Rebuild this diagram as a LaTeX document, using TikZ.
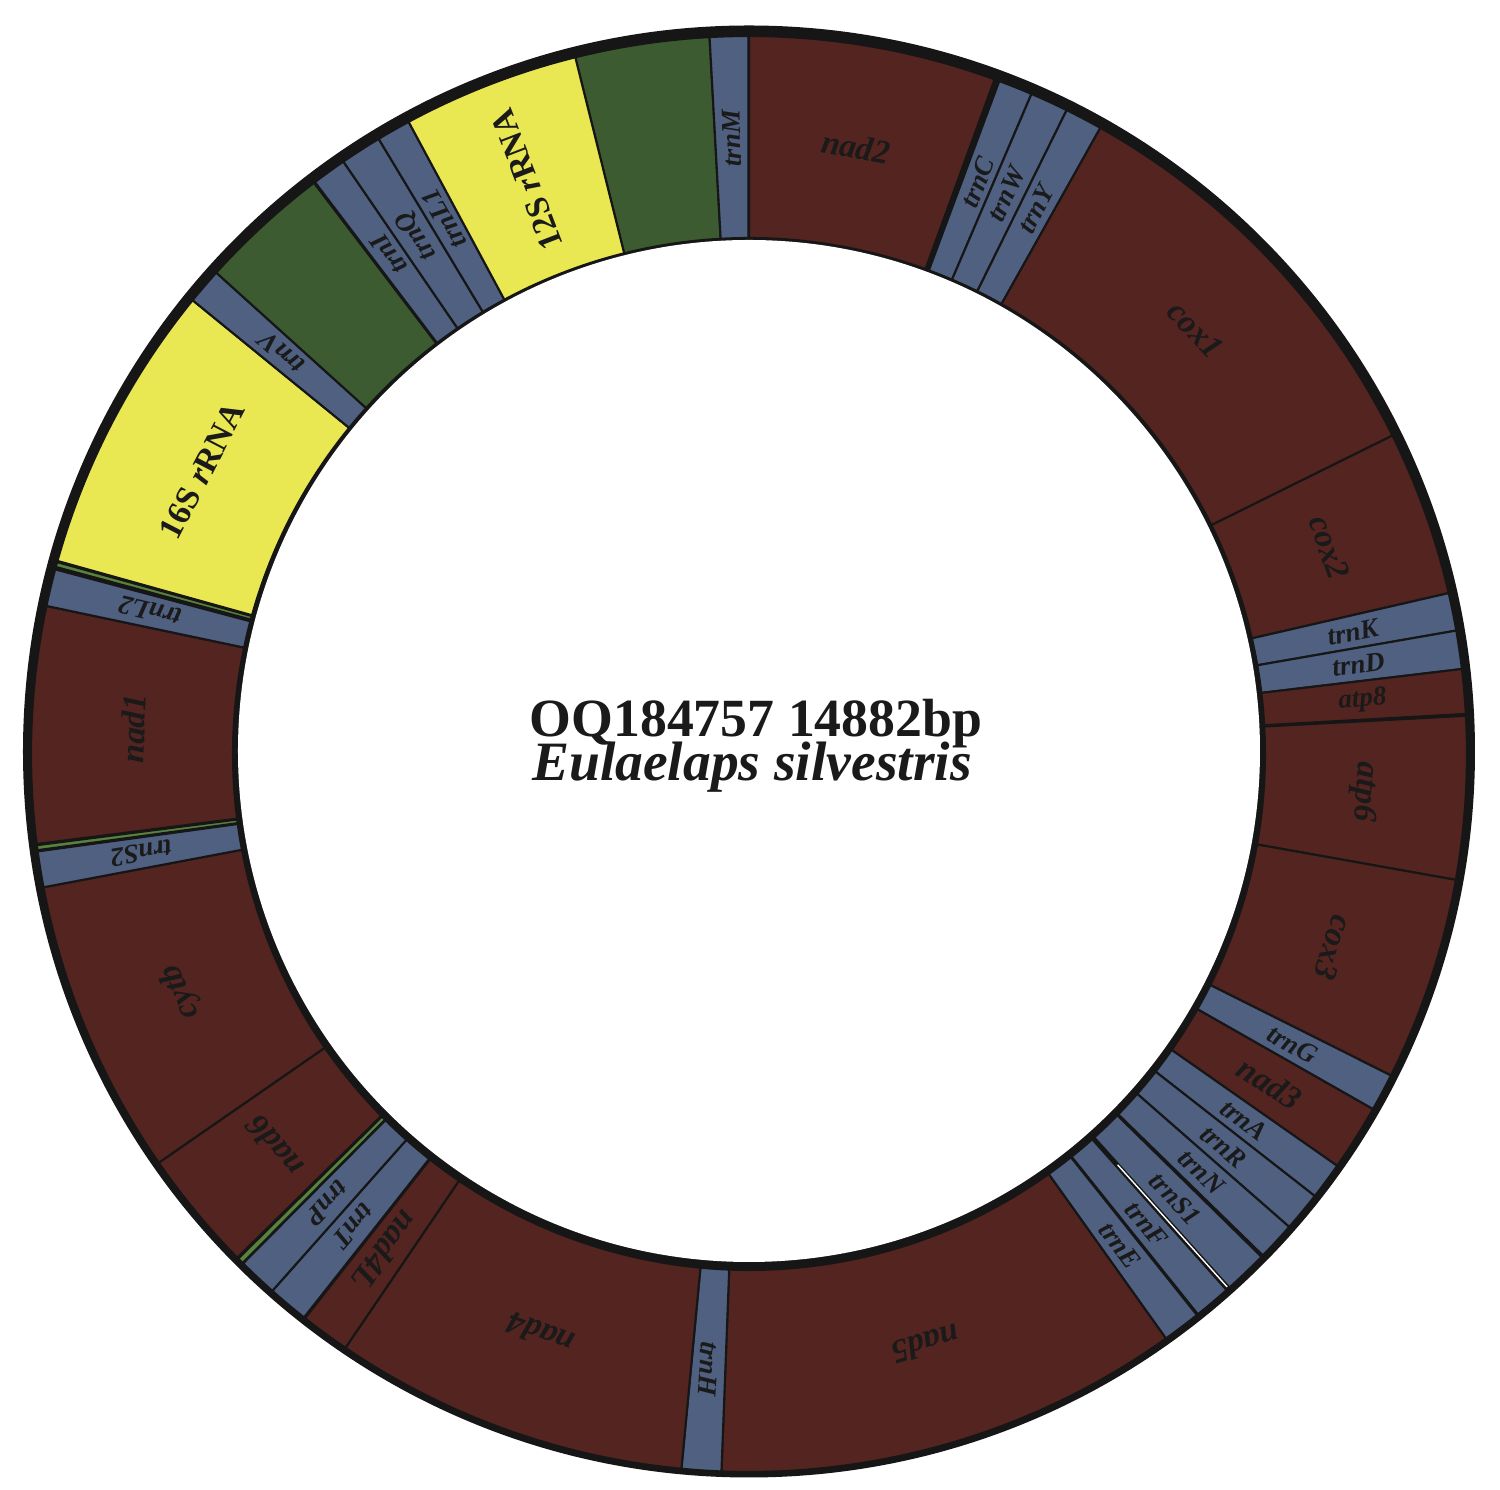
\documentclass[tikz,border=0pt]{standalone}
\usepackage{fontspec}
\setmainfont{Liberation Serif}
\definecolor{genered}{RGB}{83,36,32}
\definecolor{trnablue}{RGB}{79,96,128}
\definecolor{ctrlgreen}{RGB}{60,91,48}
\definecolor{rrnayellow}{RGB}{234,232,82}
\definecolor{thingreen}{RGB}{88,130,62}
\definecolor{labelink}{RGB}{26,26,26}
\definecolor{ringblack}{RGB}{22,22,22}
\def\Rin{5.16}
\def\Rout{7.18}
\def\Rmid{6.16}
\newcommand{\gseg}[3]{%
  \filldraw[segline,fill=#3] ({90-(#1)}:\Rout) arc[start angle={90-(#1)}, end angle={90-(#2)}, radius=\Rout]
    -- ({90-(#2)}:\Rin) arc[start angle={90-(#2)}, end angle={90-(#1)}, radius=\Rin] -- cycle;}
\newcommand{\tlab}[4]{\node[#4, rotate={-(#2)}] (#1) at ({90-(#2)}:\Rmid) {#3};}
\newcommand{\rlab}[4]{\node[#4, rotate={90-(#2)}] (#1) at ({90-(#2)}:\Rmid) {#3};}
\tikzset{
  segline/.style={draw=ringblack, line width=0.6pt},
  genelab/.style={text=labelink, font=\fontsize{9.5}{10}\selectfont\bfseries\itshape, inner sep=0pt},
  trnlab/.style={text=labelink, font=\fontsize{7.7}{8}\selectfont\bfseries\itshape, inner sep=0pt},
  rrnalab/.style={text=labelink, font=\fontsize{9.6}{10}\selectfont\bfseries, inner sep=0pt},
  titlelab/.style={text=labelink, font=\fontsize{15.3}{18}\selectfont\bfseries, inner sep=0pt, anchor=base},
}
\begin{document}
\begin{tikzpicture}
\useasboundingbox (-7.49,-7.36) rectangle (7.51,7.54);
\fill[white] (-7.49,-7.36) rectangle (7.51,7.54);
% outer black ring and white centre
\fill[ringblack] (0,0.025) circle[radius=7.26];
\fill[white] (0,0.03) circle[radius=5.11];
% segments (angles clockwise from north)
\gseg{-14.0}{-3.15}{ctrlgreen}
\gseg{-3.15}{-0.05}{trnablue}
\gseg{0}{20.0}{genered}
\gseg{20.4}{23.17}{trnablue}
\gseg{23.17}{26.26}{trnablue}
\gseg{26.26}{29.3}{trnablue}
\gseg{29.3}{63.67}{genered}
\gseg{63.67}{77.05}{genered}
\gseg{77.05}{80.1}{trnablue}
\gseg{80.1}{83.2}{trnablue}
\gseg{83.2}{86.8}{genered}
\gseg{86.95}{100.1}{genered}
\gseg{100.1}{116.6}{genered}
\gseg{116.6}{119.65}{trnablue}
\gseg{119.65}{125.0}{genered}
\gseg{125.0}{128.0}{trnablue}
\gseg{128.0}{131.2}{trnablue}
\gseg{131.2}{134.3}{trnablue}
\gseg{134.45}{138.0}{trnablue}
\gseg{138.3}{141.3}{trnablue}
\gseg{141.4}{144.5}{trnablue}
\gseg{144.5}{182.2}{genered}
\gseg{182.2}{185.4}{trnablue}
\gseg{185.4}{214.2}{genered}
\gseg{214.2}{218.2}{genered}
\gseg{218.3}{221.6}{trnablue}
\gseg{221.6}{224.8}{trnablue}
\gseg{224.85}{225.35}{thingreen}
\gseg{225.45}{235.3}{genered}
\gseg{235.3}{259.3}{genered}
\gseg{259.3}{262.2}{trnablue}
\gseg{262.3}{262.7}{thingreen}
\gseg{262.8}{281.9}{genered}
\gseg{281.9}{284.9}{trnablue}
\gseg{285.1}{285.5}{thingreen}
\gseg{285.6}{309.2}{rrnayellow}
\gseg{309.2}{312.1}{trnablue}
\gseg{312.1}{322.7}{ctrlgreen}
\gseg{322.8}{325.6}{trnablue}
\gseg{325.6}{328.95}{trnablue}
\gseg{328.95}{331.7}{trnablue}
\gseg{331.7}{346.0}{rrnayellow}
% thin light line between trnS1 and trnF
\draw[white, line width=0.4pt] ({90-138.1}:5.52) -- ({90-138.1}:7.16);
% labels
\rlab{LtrnM}{-1.6}{trnM}{trnlab}
\tlab{Lnad2}{10}{nad2}{genelab}
\rlab{LtrnC}{21.8}{trnC}{trnlab}
\rlab{LtrnW}{24.7}{trnW}{trnlab}
\rlab{LtrnY}{27.8}{trnY}{trnlab}
\tlab{Lcox1}{46.5}{cox1}{genelab}
\tlab{Lcox2}{70.4}{cox2}{genelab}
\rlab{LtrnK}{78.6}{trnK}{trnlab}
\rlab{LtrnD}{81.65}{trnD}{trnlab}
\rlab{Latp8}{85.0}{atp8}{trnlab}
\tlab{Latp6}{93.5}{atp6}{genelab}
\tlab{Lcox3}{108.35}{cox3}{genelab}
\rlab{LtrnG}{118.1}{trnG}{trnlab}
\rlab{Lnad3}{122.3}{nad3}{genelab}
\rlab{LtrnA}{126.5}{trnA}{trnlab}
\rlab{LtrnR}{129.6}{trnR}{trnlab}
\rlab{LtrnN}{132.75}{trnN}{trnlab}
\rlab{LtrnSa}{136.2}{trnS1}{trnlab}
\rlab{LtrnF}{139.8}{trnF}{trnlab}
\rlab{LtrnE}{142.95}{trnE}{trnlab}
\tlab{Lnad5}{163.35}{nad5}{genelab}
\rlab{LtrnH}{183.8}{trnH}{trnlab}
\tlab{Lnad4}{199.8}{nad4}{genelab}
\rlab{Lnad4L}{216.2}{nad4L}{genelab}
\rlab{LtrnT}{219.95}{trnT}{trnlab}
\rlab{LtrnP}{223.2}{trnP}{trnlab}
\tlab{Lnad6}{230.4}{nad6}{genelab}
\tlab{Lcytb}{247.3}{cytb}{genelab}
\rlab{LtrnSb}{260.75}{trnS2}{trnlab}
\tlab{Lnad1}{272.35}{nad1}{genelab}
\rlab{LtrnLb}{283.4}{trnL2}{trnlab}
\tlab{L16S}{297.4}{16S \textit{r}RNA}{rrnalab}
\rlab{LtrnV}{310.65}{trnV}{trnlab}
\rlab{LtrnI}{324.2}{trnI}{trnlab}
\rlab{LtrnQ}{327.3}{trnQ}{trnlab}
\rlab{LtrnLa}{330.3}{trnL1}{trnlab}
\rlab{L12S}{338.85}{12S \textit{r}RNA}{rrnalab}
% centre title
\node[titlelab] (title1) at (0.07,0.17) {OQ184757 14882bp};
\node[titlelab, font=\fontsize{15.8}{18}\selectfont\bfseries\itshape] (title2) at (0.03,-0.27) {Eulaelaps silvestris};
\end{tikzpicture}
\end{document}
